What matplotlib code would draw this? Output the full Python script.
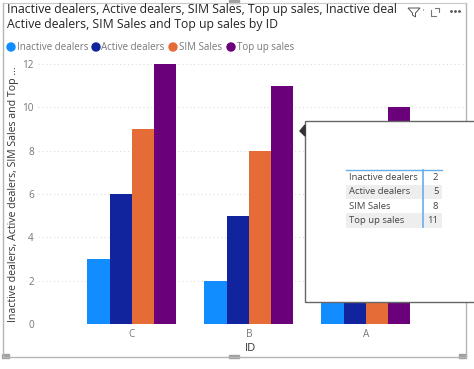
import matplotlib
matplotlib.use("Agg")
import matplotlib.pyplot as plt
from matplotlib.patches import Rectangle, Polygon, Circle

plt.rcParams["font.family"] = ["Open Sans", "DejaVu Sans"]

# Data (group A is mostly hidden behind the popup)
ids = ["C", "B", "A"]
inactive = [3, 2, 1]
active = [6, 5, 4]
sim_sales = [9, 8, 7]
top_up = [12, 11, 10]
series_names = ["Inactive dealers", "Active dealers", "SIM Sales", "Top up sales"]
series_colors = ["#118DFF", "#12239E", "#E66C37", "#6B007B"]
y_ticks = [0, 2, 4, 6, 8, 10, 12]
tooltip_values = [2, 5, 8, 11]

W, H = 474, 369
fig = plt.figure(figsize=(W / 100, H / 100), dpi=100, facecolor="white")

# Main chart axes
ax = fig.add_axes([38 / W, 1 - 324 / H, (464 - 38) / W, (324 - 64) / H])
bar_w = 0.19
series = [inactive, active, sim_sales, top_up]
for i, vals in enumerate(series):
    xs = [k + (i - 1.5) * bar_w for k in range(len(ids))]
    ax.bar(xs, vals, width=bar_w, color=series_colors[i], zorder=3)

ax.set_xlim(-0.803, 2.838)
ax.set_ylim(0, 12)
ax.set_yticks(y_ticks)
ax.set_xticks(range(len(ids)))
ax.set_xticklabels(ids)
ax.tick_params(length=0, labelsize=7.2, labelcolor="#777777")
ax.tick_params(axis="x", pad=3.5)
ax.tick_params(axis="y", pad=3)
ax.grid(axis="y", color="#dcdcdc", linestyle=(0, (1, 2.5)), linewidth=0.8, zorder=0)
for s in ax.spines.values():
    s.set_visible(False)

# Overlay in pixel coordinates for the report frame, titles, legend and popup
ov = fig.add_axes([0, 0, 1, 1], zorder=5)
ov.set_xlim(0, W)
ov.set_ylim(H, 0)
ov.axis("off")
ov.patch.set_alpha(0)

# Visual frame
ov.plot([3, 3, 466, 466], [3, 357, 357, 3], color="#b5b5b5", lw=1)
ov.plot([3, 466], [3, 3], color="#c8c8c8", lw=0.8)
for x, y in [(5, 354), (462, 354)]:
    ov.add_patch(Rectangle((x - 3, y), 7, 4, color="#a0a0a0"))
ov.add_patch(Rectangle((229, 355), 10, 3, color="#a0a0a0"))
ov.add_patch(Rectangle((229, 0), 10, 3, color="#a0a0a0"))

# Title
ov.text(7, 9.5, "Inactive dealers, Active dealers, SIM Sales, Top up sales, Inactive deal",
        fontsize=8.8, color="#252423", va="center", ha="left")
ov.text(7, 24.5, "Active dealers, SIM Sales and Top up sales by ID",
        fontsize=8.8, color="#252423", va="center", ha="left")

# Header icons
ov.add_patch(Polygon([(408, 8), (420, 8), (415.5, 13), (415.5, 17), (412.5, 15), (412.5, 13)],
                     closed=True, fill=False, ec="#555555", lw=0.7))
ov.plot([423, 423], [9, 12], color="#777777", lw=0.8, ls=":")
ov.plot([431, 431, 436], [10, 16, 16], color="#777777", lw=0.8)
ov.plot([435, 439, 439], [8, 8, 12], color="#777777", lw=0.8)
ov.plot([451, 455, 459], [11, 11, 11], color="#555555", lw=0, marker="o", ms=1)

# Legend
legend_dots = [11, 96, 173, 231]
legend_texts = [17, 101, 179, 237]
for cx, tx, name, col in zip(legend_dots, legend_texts, series_names, series_colors):
    ov.add_patch(Circle((cx, 47), 4, color=col))
    ov.text(tx, 47.5, name, fontsize=7.0, color="#777777", va="center", ha="left")

# Axis titles
ov.text(251, 348.5, "ID", fontsize=8, color="#333333", ha="center", va="center")
ov.text(14, 194, "Inactive dealers, Active dealers, SIM Sales and Top ...", fontsize=7.6,
        color="#333333", rotation=90, ha="center", va="center")

# Popup with the tooltip table
ov.add_patch(Rectangle((305, 121), 175, 181, fc="white", ec="#666666", lw=1, zorder=6))
ov.add_patch(Polygon([(305, 125), (300, 131), (305, 136)], closed=True, color="#333333", zorder=6))
row_h = 14.3
top = 170.5
for r, (name, v) in enumerate(zip(series_names, tooltip_values)):
    y = top + r * row_h
    if r % 2 == 1:
        ov.add_patch(Rectangle((346, y), 96, row_h, color="#eeeeee", lw=0, zorder=7))
    ov.text(349.5, y + row_h / 2, name, fontsize=6.8, color="#444444", va="center", ha="left", zorder=8)
    ov.text(438.5, y + row_h / 2, str(v), fontsize=6.8, color="#444444", va="center", ha="right", zorder=8)
ov.plot([346, 442], [170, 170], color="#6aaee8", lw=1, zorder=9)
ov.plot([423, 423], [170, 227], color="#6aaee8", lw=1.2, zorder=9)

plt.savefig("out.png", dpi=100)
